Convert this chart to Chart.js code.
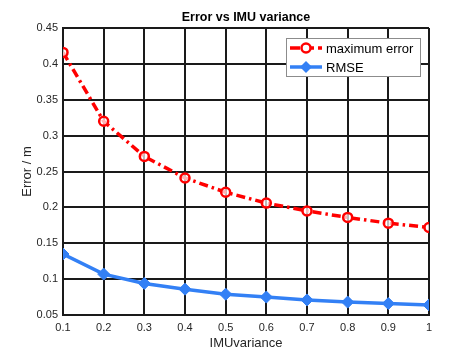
<!DOCTYPE html>
<html><head><meta charset="utf-8">
<script src="https://cdn.jsdelivr.net/npm/chart.js@4.4.1/dist/chart.umd.min.js"></script>
<style>html,body{margin:0;padding:0;background:#fff}#wrap{width:474px;height:355px}</style>
</head><body><div id="wrap"><canvas id="c" width="474" height="355"></canvas></div>
<script>
const titleText = "Error vs IMU variance";
const xTitle = "IMUvariance";
const yTitle = "Error / m";
const xValues = [0.1,0.2,0.3,0.4,0.5,0.6,0.7,0.8,0.9,1.0];
const maxError = [0.416,0.320,0.271,0.241,0.221,0.206,0.195,0.186,0.178,0.172];
const rmse = [0.135,0.107,0.094,0.086,0.079,0.075,0.071,0.068,0.066,0.064];
const xTicks = [0.1,0.2,0.3,0.4,0.5,0.6,0.7,0.8,0.9,1];
const xTickLabels = ["0.1","0.2","0.3","0.4","0.5","0.6","0.7","0.8","0.9","1"];
const yTicks = [0.05,0.1,0.15,0.2,0.25,0.3,0.35,0.4,0.45];
const yTickLabels = ["0.05","0.1","0.15","0.2","0.25","0.3","0.35","0.4","0.45"];
const seriesNames = ["maximum error","RMSE"];

const FONT = "'Liberation Sans', Arial, Helvetica, sans-serif";
const RED = '#ff0000', BLUE = '#3380f5';

const overlay = {
  id: 'overlay',
  afterDraw(chart) {
    const ctx = chart.ctx, ca = chart.chartArea;
    ctx.save();
    ctx.fillStyle = '#000';
    ctx.font = 'bold 12.5px ' + FONT;
    ctx.textAlign = 'center'; ctx.textBaseline = 'middle';
    ctx.fillText(titleText, (ca.left + ca.right) / 2, 18);
    const bx = 286, by = 38, bw = 134, bh = 38;
    ctx.fillStyle = '#fff';
    ctx.fillRect(bx, by, bw, bh);
    ctx.strokeStyle = '#8c8c8c'; ctx.lineWidth = 1;
    ctx.strokeRect(bx + 0.5, by + 0.5, bw, bh);
    chart.data.datasets.forEach((ds, i) => {
      const y = by + 10 + i * 19;
      ctx.strokeStyle = ds.borderColor; ctx.lineWidth = ds.borderWidth;
      ctx.setLineDash(ds.borderDash ? [10, 4] : []);
      ctx.beginPath(); ctx.moveTo(bx + 4, y); ctx.lineTo(bx + 36, y); ctx.stroke();
      ctx.setLineDash([]);
      const mx = bx + 20;
      ctx.beginPath();
      if (ds.pointStyle === 'rectRot') {
        const r = ds.pointRadius;
        ctx.moveTo(mx, y - r); ctx.lineTo(mx + r, y); ctx.lineTo(mx, y + r); ctx.lineTo(mx - r, y); ctx.closePath();
        ctx.fillStyle = ds.pointBackgroundColor; ctx.fill();
      } else {
        ctx.arc(mx, y, ds.pointRadius, 0, Math.PI * 2);
        ctx.fillStyle = '#fff'; ctx.fill();
        ctx.lineWidth = ds.pointBorderWidth; ctx.strokeStyle = ds.pointBorderColor; ctx.stroke();
      }
      ctx.fillStyle = '#000'; ctx.font = '13px ' + FONT;
      ctx.textAlign = 'left'; ctx.textBaseline = 'middle';
      ctx.fillText(ds.label, bx + 40, y + 1);
    });
    ctx.restore();
  }
};

new Chart(document.getElementById('c'), {
  type: 'line',
  data: {
    datasets: [
      {
        label: seriesNames[0],
        data: xValues.map((x, i) => ({x: x, y: maxError[i]})),
        borderColor: RED, borderWidth: 3.5, borderDash: [9, 4, 2.5, 4],
        pointStyle: 'circle', pointRadius: 4.5, pointBorderWidth: 2.5,
        pointBorderColor: RED, pointBackgroundColor: 'rgba(255,255,255,0.7)',
        tension: 0
      },
      {
        label: seriesNames[1],
        data: xValues.map((x, i) => ({x: x, y: rmse[i]})),
        borderColor: BLUE, borderWidth: 3.5,
        pointStyle: 'rectRot', pointRadius: 6, pointBorderWidth: 1,
        pointBorderColor: BLUE, pointBackgroundColor: BLUE,
        tension: 0
      }
    ]
  },
  options: {
    responsive: false, animation: false,
    layout: { padding: { top: 28, right: 45, left: 0, bottom: 0 } },
    plugins: { legend: { display: false }, tooltip: { enabled: false }, title: { display: false } },
    scales: {
      x: {
        type: 'linear', min: 0.1, max: 1,
        afterBuildTicks: s => { s.ticks = xTicks.map(v => ({value: v})); },
        afterFit: s => { s.height = 40; },
        ticks: { callback: (v, i) => xTickLabels[i], font: { family: FONT, size: 11 }, color: '#262626', padding: 6, maxRotation: 0, autoSkip: false },
        grid: { color: '#1a1a1a', lineWidth: 2, drawTicks: false },
        border: { color: '#1a1a1a', width: 2 },
        title: { display: true, text: xTitle, font: { family: FONT, size: 13 }, color: '#262626', padding: { top: 0, bottom: 4 } }
      },
      y: {
        type: 'linear', min: 0.05, max: 0.45,
        afterBuildTicks: s => { s.ticks = yTicks.map(v => ({value: v})); },
        afterFit: s => { s.width = 63; },
        ticks: { callback: (v, i) => yTickLabels[i], font: { family: FONT, size: 11 }, color: '#262626', padding: 5, autoSkip: false },
        grid: { color: '#1a1a1a', lineWidth: 2, drawTicks: false },
        border: { color: '#1a1a1a', width: 2 },
        title: { display: true, text: yTitle, font: { family: FONT, size: 13 }, color: '#262626', padding: { top: 20, bottom: 0 } }
      }
    }
  },
  plugins: [overlay]
});
</script></body></html>
